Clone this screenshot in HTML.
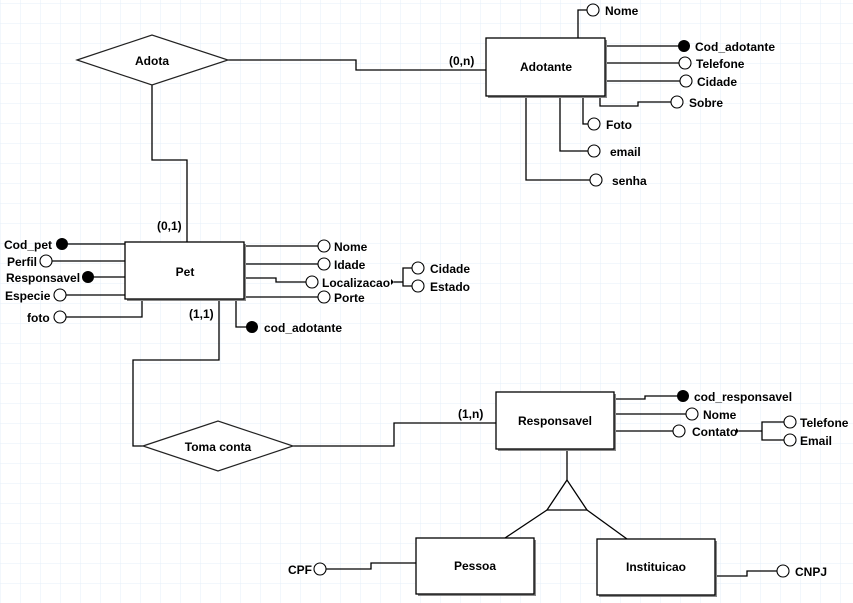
<!DOCTYPE html>
<html><head><meta charset="utf-8"><style>
html,body{margin:0;padding:0;background:#fff}
svg{display:block}
text{font-family:"Liberation Sans",Arial,sans-serif;font-weight:bold;font-size:12px;fill:#000}
</style></head><body>
<svg width="853" height="603" viewBox="0 0 853 603" xmlns="http://www.w3.org/2000/svg">
<defs>
<pattern id="g" x="0.5" y="3.5" width="20" height="20" patternUnits="userSpaceOnUse">
<path d="M20 0V20M0 20H20" stroke="#e6eff8" stroke-width="1" fill="none"/>
</pattern>
</defs>
<rect width="853" height="603" fill="url(#g)"/>
<g stroke="#000" stroke-width="1.3" fill="none">
<polyline points="228,60 356,60 356,70 486,70"/>
<polyline points="152,85 152,160 187,160 187,242"/>
<polyline points="578,38 578,10 587,10"/>
<line x1="605" y1="46" x2="678" y2="46"/>
<line x1="605" y1="63" x2="679" y2="63"/>
<line x1="605" y1="81" x2="680" y2="81"/>
<polyline points="600,96 600,106 638,106 638,102 671,102"/>
<polyline points="583,96 583,124 588,124"/>
<polyline points="560,96 560,151 588,151"/>
<polyline points="526,96 526,180 590,180"/>
<line x1="125" y1="244" x2="68" y2="244"/>
<line x1="125" y1="261" x2="52" y2="261"/>
<line x1="125" y1="277" x2="94" y2="277"/>
<line x1="125" y1="295" x2="66" y2="295"/>
<polyline points="142,299 142,317 66,317"/>
<line x1="244" y1="246" x2="318" y2="246"/>
<line x1="244" y1="264" x2="318" y2="264"/>
<polyline points="244,278 276,278 276,282 306,282"/>
<line x1="394" y1="282" x2="403" y2="282"/>
<polyline points="412,268 403,268 403,286 412,286"/>
<line x1="244" y1="297" x2="318" y2="297"/>
<polyline points="236,299 236,327 246,327"/>
<polyline points="219,299 219,360 133,360 133,446 143,446"/>
<polyline points="293,446 394,446 394,423 496,423"/>
<polyline points="614,399 645,399 645,396 677,396"/>
<line x1="614" y1="414" x2="686" y2="414"/>
<line x1="614" y1="431" x2="673" y2="431"/>
<line x1="739" y1="431" x2="762" y2="431"/>
<polyline points="784,422 762,422 762,440 784,440"/>
<line x1="567" y1="449" x2="567" y2="480"/>
<polygon points="567,480 547,510 587,510"/>
<line x1="547" y1="510" x2="505" y2="538"/>
<line x1="587" y1="510" x2="627" y2="539"/>
<polyline points="326,569 371,569 371,563 416,563"/>
<polyline points="715,576 747,576 747,571 777,571"/>
</g>
<g stroke="#222" stroke-width="1.2" fill="#fff">
<polygon points="77,60 152,35 228,60 152,85"/>
<polygon points="143,446 218,421 293,446 218,471"/>
</g>
<g>
<rect x="488" y="40" width="119" height="58" fill="#888"/>
<rect x="486" y="38" width="119" height="58" fill="#fff" stroke="#000" stroke-width="1.3"/>
<rect x="127" y="244" width="119" height="57" fill="#888"/>
<rect x="125" y="242" width="119" height="57" fill="#fff" stroke="#000" stroke-width="1.3"/>
<rect x="498" y="394" width="118" height="57" fill="#888"/>
<rect x="496" y="392" width="118" height="57" fill="#fff" stroke="#000" stroke-width="1.3"/>
<rect x="418" y="540" width="118" height="56" fill="#888"/>
<rect x="416" y="538" width="118" height="56" fill="#fff" stroke="#000" stroke-width="1.3"/>
<rect x="599" y="541" width="118" height="56" fill="#888"/>
<rect x="597" y="539" width="118" height="56" fill="#fff" stroke="#000" stroke-width="1.3"/>
</g>
<g stroke="#000" stroke-width="1.1" fill="#fff">
<circle cx="593" cy="10" r="6"/>
<circle cx="685" cy="63" r="6"/>
<circle cx="686" cy="81" r="6"/>
<circle cx="677" cy="102" r="6"/>
<circle cx="594" cy="124" r="6"/>
<circle cx="594" cy="151" r="6"/>
<circle cx="596" cy="180" r="6"/>
<circle cx="46" cy="261" r="6"/>
<circle cx="60" cy="295" r="6"/>
<circle cx="60" cy="317" r="6"/>
<circle cx="324" cy="246" r="6"/>
<circle cx="324" cy="264" r="6"/>
<circle cx="312" cy="282" r="6"/>
<circle cx="418" cy="268" r="6"/>
<circle cx="418" cy="286" r="6"/>
<circle cx="324" cy="297" r="6"/>
<circle cx="692" cy="414" r="6"/>
<circle cx="679" cy="431" r="6"/>
<circle cx="790" cy="422" r="6"/>
<circle cx="790" cy="440" r="6"/>
<circle cx="320" cy="569" r="6"/>
<circle cx="783" cy="571" r="6"/>
</g>
<g fill="#000">
<circle cx="684" cy="46" r="6"/>
<circle cx="62" cy="244" r="6"/>
<circle cx="88" cy="277" r="6"/>
<circle cx="252" cy="327" r="6"/>
<circle cx="683" cy="396" r="6"/>
<path d="M391,279 L394,282 L391,285Z"/>
<path d="M736,428 L739,431 L736,434Z"/>
</g>
<text x="152" y="65" text-anchor="middle">Adota</text>
<text x="546" y="71" text-anchor="middle">Adotante</text>
<text x="185" y="276" text-anchor="middle">Pet</text>
<text x="555" y="425" text-anchor="middle">Responsavel</text>
<text x="475" y="570" text-anchor="middle">Pessoa</text>
<text x="656" y="571" text-anchor="middle">Instituicao</text>
<text x="218" y="451" text-anchor="middle">Toma conta</text>
<text x="449" y="65">(0,n)</text>
<text x="157" y="230">(0,1)</text>
<text x="189" y="318">(1,1)</text>
<text x="458" y="418">(1,n)</text>
<text x="605" y="15">Nome</text>
<text x="695" y="51">Cod_adotante</text>
<text x="696" y="68">Telefone</text>
<text x="697" y="86">Cidade</text>
<text x="689" y="107">Sobre</text>
<text x="606" y="129">Foto</text>
<text x="610" y="156">email</text>
<text x="612" y="185">senha</text>
<text x="4" y="249">Cod_pet</text>
<text x="7" y="266">Perfil</text>
<text x="6" y="282">Responsavel</text>
<text x="5" y="300">Especie</text>
<text x="27" y="322">foto</text>
<text x="334" y="251">Nome</text>
<text x="334" y="269">Idade</text>
<text x="322" y="287">Localizacao</text>
<text x="430" y="273">Cidade</text>
<text x="430" y="291">Estado</text>
<text x="334" y="302">Porte</text>
<text x="264" y="332">cod_adotante</text>
<text x="694" y="401">cod_responsavel</text>
<text x="703" y="419">Nome</text>
<text x="692" y="436">Contato</text>
<text x="800" y="427">Telefone</text>
<text x="800" y="445">Email</text>
<text x="288" y="574">CPF</text>
<text x="795" y="576">CNPJ</text>
</svg>
</body></html>
